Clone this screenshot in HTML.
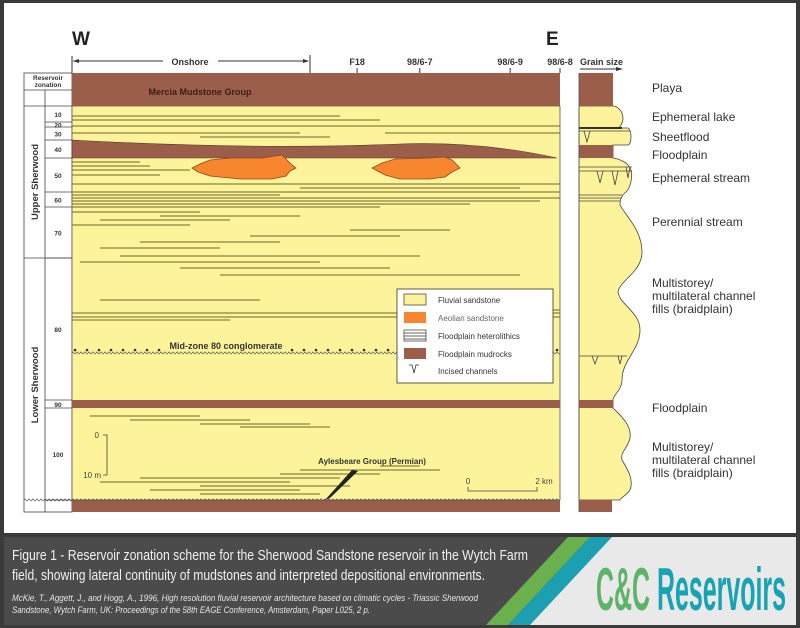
<!DOCTYPE html>
<html><head><meta charset="utf-8">
<style>
html,body{margin:0;padding:0;background:#3a3a3a;}
#wrap{position:relative;width:800px;height:628px;overflow:hidden;background:#3a3a3a;font-family:"Liberation Sans",sans-serif;}
svg text{font-family:"Liberation Sans",sans-serif;}
</style></head>
<body>
<div id="wrap">
<svg id="svg" width="800" height="628" viewBox="0 0 800 628" xmlns="http://www.w3.org/2000/svg">
  <rect x="4" y="3" width="792" height="530" fill="#ffffff"/>
  <rect x="4" y="537" width="792" height="88" fill="#4b4b4b"/>
  <polygon points="596,537 796,537 796,625 515,625" fill="#e9e9e9"/>
  <polygon points="568,537 590,537 508,625 486,625" fill="#6ab04c"/>
  <polygon points="590,537 612,537 530,625 508,625" fill="#1c9fb0"/>
  <text x="12" y="560" font-size="15" fill="#f0f0f0" textLength="516" lengthAdjust="spacingAndGlyphs">Figure 1 - Reservoir zonation scheme for the Sherwood Sandstone reservoir in the Wytch Farm</text>
  <text x="12" y="580" font-size="15" fill="#f0f0f0" textLength="473" lengthAdjust="spacingAndGlyphs">field, showing lateral continuity of mudstones and interpreted depositional environments.</text>
  <text x="12" y="601" font-size="9" font-style="italic" fill="#e6e6e6" textLength="466" lengthAdjust="spacingAndGlyphs">McKie, T., Aggett, J., and Hogg, A., 1996, High resolution fluvial reservoir architecture based on climatic cycles - Triassic Sherwood</text>
  <text x="12" y="613" font-size="9" font-style="italic" fill="#e6e6e6" textLength="358" lengthAdjust="spacingAndGlyphs">Sandstone, Wytch Farm, UK: Proceedings of the 58th EAGE Conference, Amsterdam, Paper L025, 2 p.</text>
  <text x="596" y="610" font-size="60" font-weight="bold" textLength="190" lengthAdjust="spacingAndGlyphs"><tspan fill="#5db36a">C&amp;C </tspan><tspan fill="#17a3b3">Reservoirs</tspan></text>

  <text x="72" y="45" font-size="19" font-weight="bold" fill="#222">W</text>
  <text x="546" y="45" font-size="19" font-weight="bold" fill="#222">E</text>
  <g stroke="#333" stroke-width="1">
    <line x1="73" y1="61" x2="163" y2="61"/><line x1="218" y1="61" x2="308" y2="61"/>
    <line x1="72" y1="56" x2="72" y2="73"/><line x1="310" y1="55" x2="310" y2="73"/>
  </g>
  <polygon points="73,61 79,59 79,63" fill="#333"/><polygon points="309,61 303,59 303,63" fill="#333"/>
  <text x="190" y="65" font-size="9" font-weight="bold" fill="#333" text-anchor="middle">Onshore</text>
  <g id="wells" font-size="9" font-weight="bold" fill="#333" text-anchor="middle"></g>
  <text x="580" y="65" font-size="9" font-weight="bold" fill="#333">Grain size</text>
  <line x1="580" y1="69" x2="618" y2="69" stroke="#333"/><polygon points="623,69 616,67 616,71" fill="#333"/>

  <g stroke="#444" stroke-width="0.8" fill="none">
    <rect x="24" y="73" width="48" height="439" fill="#fff"/>
    <line x1="24" y1="90" x2="72" y2="90"/>
    <line x1="45" y1="90" x2="45" y2="512"/>
    <line x1="24" y1="106" x2="72" y2="106"/>
    <line x1="24" y1="258" x2="72" y2="258"/>
  </g>
  <text x="48" y="80" font-size="6.5" font-weight="bold" fill="#333" text-anchor="middle">Reservoir</text>
  <text x="48" y="87" font-size="6.5" font-weight="bold" fill="#333" text-anchor="middle">zonation</text>
  <text transform="translate(38,182) rotate(-90)" font-size="9.5" font-weight="bold" fill="#333" text-anchor="middle">Upper Sherwood</text>
  <text transform="translate(38,385) rotate(-90)" font-size="9.5" font-weight="bold" fill="#333" text-anchor="middle">Lower Sherwood</text>
  <g id="zones"></g>

  <rect x="72" y="106" width="488" height="394" fill="#fdf39a" stroke="#555" stroke-width="0.8"/>
  <rect x="72" y="73" width="488" height="33" fill="#9a5e4a"/>
  <text x="200" y="95" font-size="9" font-weight="bold" fill="#3a1f15" text-anchor="middle">Mercia Mudstone Group</text>
  <path d="M72,140 Q250,150 400,144 Q480,141 557,158 L72,158 Z" fill="#9a5e4a" stroke="#5a3a2a" stroke-width="0.6"/>
  <rect x="72" y="400" width="488" height="8" fill="#9a5e4a"/>
  <rect x="72" y="500" width="488" height="12" fill="#9a5e4a"/>
  <g id="hlines" stroke="#6b6a2a" stroke-width="1"></g>
  <path d="M262,158 L282,155 L286,159 L292,165 L296,168 L290,171 L286,176 L272,179 L240,179 L210,176 L198,172 L192,168 L200,164 L210,160 L230,158 Z" fill="#f7862e" stroke="#8a4a1a" stroke-width="0.8"/>
  <path d="M430,158 L445,157 L452,160 L460,168 L452,172 L445,177 L430,179 L400,179 L385,175 L372,168 L382,163 L395,159 Z" fill="#f7862e" stroke="#8a4a1a" stroke-width="0.8"/>
  <path id="wavy" fill="none" stroke="#555" stroke-width="0.7"/>
  <path id="cong" fill="none" stroke="#555" stroke-width="0.7"/>
  <g id="dots" fill="#333"></g>
  <text x="226" y="349" font-size="9" font-weight="bold" fill="#333" text-anchor="middle">Mid-zone 80 conglomerate</text>
  <text x="372" y="464" font-size="8" font-weight="bold" fill="#333" text-anchor="middle">Aylesbeare Group (Permian)</text>
  <polygon points="352,470 358,471 330,498 325,500" fill="#222"/>
  <g stroke="#444" stroke-width="0.8" fill="none"><polyline points="103,435 107,435 107,475 103,475"/></g>
  <text x="99" y="438" font-size="8" fill="#444" text-anchor="end">0</text>
  <text x="101" y="478" font-size="8" fill="#444" text-anchor="end">10 m</text>
  <g stroke="#444" stroke-width="0.8" fill="none"><polyline points="468,487 468,491 537,491 537,487"/></g>
  <text x="468" y="484" font-size="8" fill="#444" text-anchor="middle">0</text>
  <text x="544" y="484" font-size="8" fill="#444" text-anchor="middle">2 km</text>

  <g>
    <rect x="397" y="289" width="156" height="94" fill="#fff" stroke="#333" stroke-width="0.8"/>
    <rect x="404" y="294" width="22" height="11" fill="#fdf39a" stroke="#333" stroke-width="0.7"/>
    <text x="438" y="303" font-size="8" fill="#333">Fluvial sandstone</text>
    <rect x="404" y="312" width="22" height="11" fill="#f7862e"/>
    <text x="438" y="321" font-size="8" fill="#666">Aeolian sandstone</text>
    <rect x="404" y="330" width="22" height="11" fill="#fff" stroke="#333" stroke-width="0.7"/>
    <g stroke="#333" stroke-width="0.8"><line x1="404" y1="333" x2="426" y2="333"/><line x1="404" y1="336" x2="426" y2="336"/><line x1="404" y1="339" x2="426" y2="339"/></g>
    <text x="438" y="339" font-size="8" fill="#333">Floodplain heterolithics</text>
    <rect x="404" y="348" width="22" height="11" fill="#9a5e4a"/>
    <text x="438" y="357" font-size="8" fill="#333">Floodplain mudrocks</text>
    <path d="M409,365 L412,365 L414,373 L416,365 L419,365" fill="none" stroke="#333" stroke-width="0.8"/>
    <text x="438" y="374" font-size="8" fill="#333">Incised channels</text>
  </g>

  <path d="M579,106 L613,106 C618,106 623,112 623,118 C623,124 619,128 618,128 L628,128 C632,130 632,144 628,145 L613,145 L613,158 C620,159 628,163 630,168 C633,172 632,186 626,192 C621,196 620,200 620,205 C625,215 642,230 642,252 C642,272 620,280 618,292 C620,305 640,312 640,330 C640,350 622,360 622,380 C622,390 613,395 613,400 L613,408 C620,415 632,425 630,438 C628,448 620,452 622,460 C628,470 634,480 630,490 C626,496 620,498 620,500 L579,500 Z" fill="#fdf39a" stroke="#444" stroke-width="0.8"/>
  <rect x="579" y="73" width="34" height="33" fill="#9a5e4a"/>
  <rect x="579" y="145" width="34" height="13" fill="#9a5e4a"/>
  <rect x="579" y="400" width="34" height="8" fill="#9a5e4a"/>
  <rect x="579" y="500" width="33" height="12" fill="#9a5e4a"/>
  <g stroke="#444" stroke-width="0.8" fill="none">
    <line x1="579" y1="128" x2="622" y2="128" stroke-width="2" stroke="#333"/>
    <line x1="579" y1="131" x2="630" y2="131"/>
    <path d="M584,131 L587,142 L590,131"/>
    <line x1="579" y1="167" x2="632" y2="167"/>
    <line x1="579" y1="171" x2="632" y2="171"/>
    <path d="M597,171 L600,183 L603,171 M612,171 L615,185 L618,171 M626,167 L628,178 L630,167"/>
    <line x1="579" y1="195" x2="622" y2="195"/><line x1="579" y1="198" x2="621" y2="198"/><line x1="579" y1="201" x2="620" y2="201"/>
    <line x1="579" y1="356" x2="627" y2="356"/>
    <path d="M592,356 L595,364 L598,356 M618,356 L620,364 L622,356"/>
  </g>
  <line x1="579" y1="73" x2="579" y2="512" stroke="#555" stroke-width="0.8"/>
  <g id="envs" font-size="12" fill="#333"></g>
</svg>
</div>
<script>
const NS="http://www.w3.org/2000/svg";
const svg=document.getElementById('svg');
function mk(tag,attrs,parent,txt){const e=document.createElementNS(NS,tag);for(const k in attrs)e.setAttribute(k,attrs[k]);if(txt!==undefined)e.textContent=txt;(parent||svg).appendChild(e);return e;}

const zoneNames=["10","20","30","40","50","60","70","80","90","100"];
const zoneTops=[106,122,127,140,158,192,207,258,400,408];
const zoneBottoms=[122,127,140,158,192,207,258,400,408,500];
const wellNames=["F18","98/6-7","98/6-9","98/6-8"];
const wellKm=[5.55,6.77,8.53,9.5];
const envNames=[["Playa"],["Ephemeral lake"],["Sheetflood"],["Floodplain"],["Ephemeral stream"],["Perennial stream"],["Multistorey/","multilateral channel","fills (braidplain)"],["Floodplain"],["Multistorey/","multilateral channel","fills (braidplain)"]];
const envY=[92,121,141,159,182,226,287,412,451];

const kmToX=k=>72+k*(488/9.5);
const zg=document.getElementById('zones');
zoneNames.forEach((n,i)=>{
  const t=zoneTops[i],b=zoneBottoms[i];
  const l=mk('line',{x1:45,y1:b,x2:72,y2:b,stroke:'#444','stroke-width':0.8},zg);
  
  
  const tx=mk('text',{x:58,y:(t+b)/2+3,'font-size':6.5,'font-weight':'bold',fill:'#333','text-anchor':'middle'},zg,n);
  
  
});
const wg=document.getElementById('wells');
wellNames.forEach((n,i)=>{
  const x=kmToX(wellKm[i]);
  const t=mk('text',{x:x,y:65},wg,n);
  
  
  mk('line',{x1:x,y1:68,x2:x,y2:73,stroke:'#333'},wg);
});
const eg=document.getElementById('envs');
envNames.forEach((lines,i)=>{
  lines.forEach((s,j)=>{
    const t=mk('text',{x:652,y:envY[i]+j*13},eg,s);
    
    
  });
});
const lineY=[116,120,126,133,133,137,162,166,170,175,184,188,192,195,198,201,204,207,212,216,220,225,230,236,242,248,256,262,268,275,300,313,317,320,310,416,420,424,427,466,470,474,478,482,486,490,494];
const lineX1=[72,72,72,385,72,200,72,72,72,72,72,300,72,72,72,72,72,72,72,160,100,72,350,250,140,100,120,80,180,220,100,72,72,72,400,90,130,200,240,380,300,280,140,100,200,150,200];
const lineX2=[340,380,560,560,300,330,140,150,190,160,560,520,560,280,560,540,470,380,200,300,230,190,450,400,280,220,420,320,390,520,260,560,560,230,560,200,250,310,330,420,440,380,340,290,350,300,320];
const hg=document.getElementById('hlines');
lineY.forEach((y,i)=>{
  const l=mk('line',{x1:lineX1[i],y1:y,x2:lineX2[i],y2:y},hg);
  
  
});
let d='M24,500';for(let x=24;x<560;x+=4)d+=` q1,-2 2,0 q1,2 2,0`;
document.getElementById('wavy').setAttribute('d',d);
let c='M72,353';for(let x=72;x<558;x+=4)c+=` q1,-2 2,0 q1,2 2,0`;
document.getElementById('cong').setAttribute('d',c);
const dg=document.getElementById('dots');
for(let x=75;x<160;x+=12)mk('circle',{cx:x,cy:350,r:1.3},dg);
for(let x=292;x<400;x+=12)mk('circle',{cx:x,cy:350,r:1.3},dg);
mk('circle',{cx:557,cy:350,r:1.3},dg);
</script>
</body></html>
